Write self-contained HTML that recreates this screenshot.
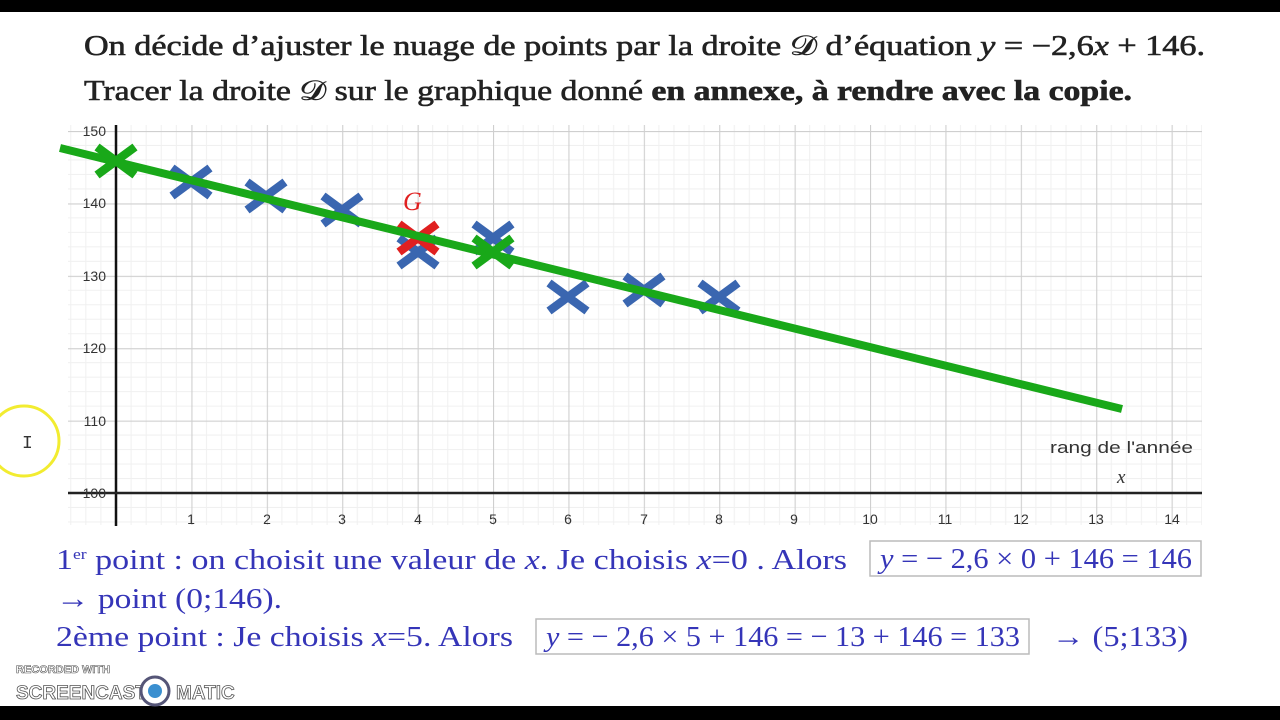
<!DOCTYPE html>
<html><head><meta charset="utf-8"><style>
html,body{margin:0;padding:0;width:1280px;height:720px;overflow:hidden;background:#fff}
svg{display:block}
</style></head><body>
<svg width="1280" height="720" xmlns="http://www.w3.org/2000/svg">
<defs>
<pattern id="g" x="116" y="493" width="75.4" height="72.4" patternUnits="userSpaceOnUse">
<g stroke="#f0f0f0" stroke-width="1">
<line x1="15.08" y1="0" x2="15.08" y2="72.4"/><line x1="30.16" y1="0" x2="30.16" y2="72.4"/><line x1="45.24" y1="0" x2="45.24" y2="72.4"/><line x1="60.32" y1="0" x2="60.32" y2="72.4"/>
<line x1="0" y1="14.48" x2="75.4" y2="14.48"/><line x1="0" y1="28.96" x2="75.4" y2="28.96"/><line x1="0" y1="43.44" x2="75.4" y2="43.44"/><line x1="0" y1="57.92" x2="75.4" y2="57.92"/>
</g>
<g stroke="#cfcfcf" stroke-width="1.2"><line x1="0.5" y1="0" x2="0.5" y2="72.4"/><line x1="0" y1="0.5" x2="75.4" y2="0.5"/></g>
</pattern>
</defs>
<rect x="0" y="0" width="1280" height="12" fill="#000"/>
<rect x="0" y="706" width="1280" height="14" fill="#000"/>
<g font-family="Liberation Serif,serif" font-size="28" fill="#222" stroke="#222" stroke-width="0.6">
<text x="84" y="55" textLength="1121" lengthAdjust="spacingAndGlyphs">On décide d’ajuster le nuage de points par la droite 𝒟 d’équation <tspan font-style="italic">y</tspan> = −2,6<tspan font-style="italic">x</tspan> + 146.</text>
<text x="84" y="100" textLength="1048" lengthAdjust="spacingAndGlyphs">Tracer la droite 𝒟 sur le graphique donné <tspan font-weight="bold">en annexe, à rendre avec la copie.</tspan></text>
</g>
<rect x="68" y="125" width="1134" height="400" fill="url(#g)"/>
<line x1="116" y1="125" x2="116" y2="526" stroke="#111" stroke-width="2.5"/>
<line x1="68" y1="493" x2="1202" y2="493" stroke="#222" stroke-width="2.5"/>
<g font-family="Liberation Sans,sans-serif" font-size="14" fill="#333" text-anchor="end">
<text x="106" y="136">150</text><text x="106" y="208">140</text><text x="106" y="281">130</text><text x="106" y="353">120</text><text x="106" y="426">110</text><text x="106" y="498">100</text>
</g>
<g font-family="Liberation Sans,sans-serif" font-size="14" fill="#333" text-anchor="middle">
<text x="191" y="524">1</text><text x="267" y="524">2</text><text x="342" y="524">3</text><text x="418" y="524">4</text><text x="493" y="524">5</text><text x="568" y="524">6</text><text x="644" y="524">7</text><text x="719" y="524">8</text><text x="794" y="524">9</text><text x="870" y="524">10</text><text x="945" y="524">11</text><text x="1021" y="524">12</text><text x="1096" y="524">13</text><text x="1172" y="524">14</text>
</g>
<text x="1050" y="453" font-family="Liberation Sans,sans-serif" font-size="17" fill="#333" textLength="143" lengthAdjust="spacingAndGlyphs">rang de l'année</text>
<text x="1117" y="483" font-family="Liberation Serif,serif" font-style="italic" font-size="19" fill="#333">x</text>
<g stroke="#3a66b0" stroke-width="8.5" stroke-linecap="butt">
<path d="M172 168L210 196M172 196L210 168"/>
<path d="M247 182L285 210M247 210L285 182"/>
<path d="M323 196L361 224M323 224L361 196"/>
<path d="M399 238L437 266M399 266L437 238"/>
<path d="M474 224L512 252M474 252L512 224"/>
<path d="M549 283L587 311M549 311L587 283"/>
<path d="M625 276L663 304M625 304L663 276"/>
<path d="M700 283L738 311M700 311L738 283"/>
</g>
<g stroke="#e02020" stroke-width="8.5"><path d="M399 224L437 252M399 252L437 224"/></g>
<text x="403" y="210" font-family="Liberation Serif,serif" font-style="italic" font-size="26" fill="#e02020">G</text>
<line x1="60" y1="148" x2="1122" y2="409" stroke="#19a819" stroke-width="8"/>
<g stroke="#19a819" stroke-width="8.5"><path d="M97 147L135 175M97 175L135 147"/><path d="M474 238L512 266M474 266L512 238"/></g>
<circle cx="24" cy="441" r="35" fill="none" stroke="#f2ec30" stroke-width="3"/>
<text x="22" y="448" font-family="Liberation Mono,monospace" font-size="18" fill="#333">I</text>
<g font-family="Liberation Serif,serif" font-size="29" fill="#3535b8">
<text x="56" y="569" textLength="791" lengthAdjust="spacingAndGlyphs">1<tspan font-size="15" dy="-10">er</tspan><tspan dy="10"> point : on choisit une valeur de </tspan><tspan font-style="italic">x</tspan>. Je choisis <tspan font-style="italic">x</tspan>=0 . Alors</text>
<text x="56" y="608" textLength="226" lengthAdjust="spacingAndGlyphs">→ point (0;146).</text>
<text x="56" y="646" textLength="457" lengthAdjust="spacingAndGlyphs">2ème point : Je choisis <tspan font-style="italic">x</tspan>=5. Alors</text>
<text x="880" y="568" textLength="312" lengthAdjust="spacingAndGlyphs"><tspan font-style="italic">y</tspan> = − 2,6 × 0 + 146 = 146</text>
<text x="546" y="646" textLength="474" lengthAdjust="spacingAndGlyphs"><tspan font-style="italic">y</tspan> = − 2,6 × 5 + 146 = − 13 + 146 = 133</text>
<text x="1052" y="646" textLength="136" lengthAdjust="spacingAndGlyphs">→ (5;133)</text>
</g>
<rect x="870" y="541" width="331" height="35" fill="none" stroke="#bbb" stroke-width="1.5"/>
<rect x="536" y="619" width="493" height="35" fill="none" stroke="#bbb" stroke-width="1.5"/>
<text x="16" y="673" font-family="Liberation Sans,sans-serif" font-weight="bold" font-size="11" fill="#fff" stroke="#555" stroke-width="0.6">RECORDED WITH</text>
<text x="16" y="699" font-family="Liberation Sans,sans-serif" font-weight="bold" font-size="19" fill="#fff" stroke="#555" stroke-width="0.8">SCREENCAST</text>
<circle cx="155" cy="691" r="14" fill="#fff" stroke="#557" stroke-width="3"/><circle cx="155" cy="691" r="7" fill="#3a8fd0"/>
<text x="176" y="699" font-family="Liberation Sans,sans-serif" font-weight="bold" font-size="19" fill="#fff" stroke="#555" stroke-width="0.8">MATIC</text>
</svg>
</body></html>
